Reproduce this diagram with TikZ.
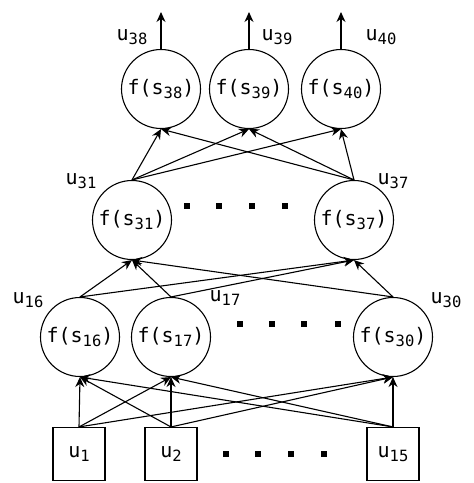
\documentclass[tikz,border=0pt]{standalone}
\usepackage{fontspec}
\setmonofont{DejaVu Sans Mono}
\usetikzlibrary{arrows.meta}
\newcommand{\ssub}[1]{\raisebox{-0.35ex}{\fontsize{15.5}{15.5}\selectfont #1}}

\begin{document}
\begin{tikzpicture}[x=1pt,y=-1pt,
        txt/.style={font=\ttfamily\fontsize{20}{20}\selectfont},
        neuron/.style={txt, draw, circle, line width=1.1pt, minimum size=79pt, inner sep=0pt},
        inbox/.style={txt, draw, rectangle, line width=1.1pt, minimum width=52pt, minimum height=53pt, inner sep=0pt},
        conn/.style={-{Stealth[length=10pt,width=9pt]}, line width=1.1pt}]
        \useasboundingbox (0,0) rectangle (474,483);

        % inputs
        \node[inbox] (u1) at (79,454){u\ssub{1}};
        \node[inbox] (u2) at (171,454){u\ssub{2}};
        \node[inbox] (u15) at (393,454){u\ssub{15}};

        % first layer
        \node[neuron] (f16) at (80,337){f(s\ssub{16})};
        \node[neuron] (f17) at (171,337){f(s\ssub{17})};
        \node[neuron] (f30) at (393,337){f(s\ssub{30})};

        % second layer
        \node[neuron] (f31) at (132,220){f(s\ssub{31})};
        \node[neuron] (f37) at (354,220){f(s\ssub{37})};

        % output layer
        \node[neuron] (f38) at (161,89){f(s\ssub{38})};
        \node[neuron] (f39) at (249,89){f(s\ssub{39})};
        \node[neuron] (f40) at (341,89){f(s\ssub{40})};

        \coordinate (o38) at (161,12);
        \coordinate (o39) at (249,12);
        \coordinate (o40) at (341,12);

        \foreach \a in {u1,u2,u15} {
        \foreach \b in {f16,f17,f30} {
                \draw [conn] (\a.north) -- (\b.south);
        }
        }
        \foreach \a in {f16,f17,f30} {
        \foreach \b in {f31,f37} {
                \draw [conn] (\a.north) -- (\b.south);
        }
        }
        \foreach \a in {f31,f37} {
        \foreach \b in {f38,f39,f40} {
                \draw [conn] (\a.north) -- (\b.south);
        }
        }
        \draw [conn] (f38.north) -- (o38);
        \draw [conn] (f39.north) -- (o39);
        \draw [conn] (f40.north) -- (o40);

        % labels
        \node[txt] (l38) at (132,37){u\ssub{38}};
        \node[txt] (l39) at (277,37){u\ssub{39}};
        \node[txt] (l40) at (381,37){u\ssub{40}};
        \node[txt] (l31) at (81,181){u\ssub{31}};
        \node[txt] (l37) at (393,181){u\ssub{37}};
        \node[txt] (l16) at (28,300){u\ssub{16}};
        \node[txt] (l17) at (225,298){u\ssub{17}};
        \node[txt] (l30) at (446,300){u\ssub{30}};

        % dots
        \foreach \x in {187,219,252,285} {
                \fill (\x-3,203) rectangle (\x+3,209);
        }
        \foreach \x in {240,272,304,338} {
                \fill (\x-3,321) rectangle (\x+3,327);
        }
        \foreach \x in {226,258,291,324} {
                \fill (\x-3,451) rectangle (\x+3,457);
        }

\end{tikzpicture}
\end{document}
